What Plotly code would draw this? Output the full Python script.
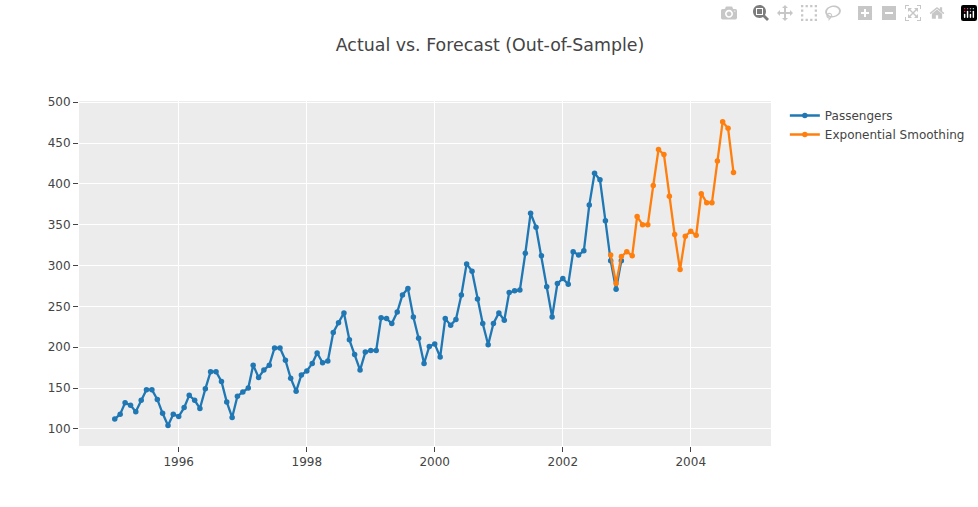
import pandas as pd
import plotly.graph_objects as go

actual_values = [112,118,132,129,121,135,148,148,136,119,104,118,
                 115,126,141,135,125,149,170,170,158,133,114,140,
                 145,150,178,163,172,178,199,199,184,162,146,166,
                 171,180,193,181,183,218,230,242,209,191,172,194,
                 196,196,236,235,229,243,264,272,237,211,180,201,
                 204,188,235,227,234,264,302,293,259,229,203,229,
                 242,233,267,269,270,315,364,347,312,274,237,278,
                 284,277,317,313,318,374,413,405,355,306,271,306]
forecast_values = [313,278,311,317,312,360,350,350,398,442,436,385,
                   338,295,336,342,337,388,377,377,428,476,468,414]
actual_dates = pd.date_range("1995-01-01", periods=len(actual_values), freq="MS")
forecast_dates = pd.date_range("2002-10-01", periods=len(forecast_values), freq="MS")

fig = go.Figure()
fig.add_trace(go.Scatter(x=actual_dates, y=actual_values, mode="lines+markers", name="Passengers",
                         line=dict(color="#1f77b4", width=2.3), marker=dict(size=5.5)))
fig.add_trace(go.Scatter(x=forecast_dates, y=forecast_values, mode="lines+markers", name="Exponential Smoothing",
                         line=dict(color="#ff7f0e", width=2.3), marker=dict(size=5.5)))
fig.update_layout(
    width=983, height=507,
    title=dict(text="Actual vs. Forecast (Out-of-Sample)", x=0.4985, xanchor="center", y=0.911, yanchor="middle",
               font=dict(size=17.4, color="#444", family="DejaVu Sans")),
    font=dict(family="DejaVu Sans", size=12, color="#444"),
    paper_bgcolor="white", plot_bgcolor="#ececec",
    margin=dict(l=79, r=212, t=101, b=61),
    legend=dict(x=1.02, y=1, xanchor="left", yanchor="top"),
    dragmode="zoom",
    hovermode="closest",
    xaxis=dict(showgrid=True, gridcolor="white", gridwidth=1, ticks="outside", ticklen=5, tickcolor="#444",
               zeroline=False, showline=False, dtick="M24", tick0="1996-01-01", tickformat="%Y",
               range=["1994-06-11", "2005-04-03"]),
    yaxis=dict(showgrid=True, gridcolor="white", gridwidth=1, ticks="outside", ticklen=5, tickcolor="#444",
               zeroline=False, showline=False, range=[79, 501.5], tick0=100, dtick=50),
)
fig.write_html("out.html", config=dict(displayModeBar=True, displaylogo=True),
               post_script="document.body.style.margin='0';document.body.style.overflow='hidden';")
